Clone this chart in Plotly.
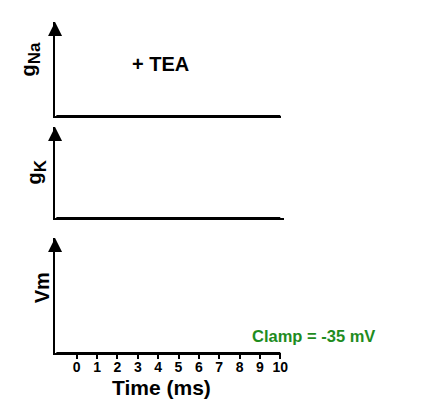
import plotly.graph_objects as go

W, H = 424, 415

# data
time_ms = [-1.0, 0, 1, 2, 3, 4, 5, 6, 7, 8, 9, 10]
g_na = [0, 0, 0, 0, 0, 0, 0, 0, 0, 0, 0, 0]
g_k = [0, 0, 0, 0, 0, 0, 0, 0, 0, 0, 0, 0]
vm = [0, 0, 0, 0, 0, 0, 0, 0, 0, 0, 0, 0]
tick_vals = [0, 1, 2, 3, 4, 5, 6, 7, 8, 9, 10]
tick_text = ["<b>%d</b>" % v for v in tick_vals]

FONT = "Liberation Sans, Arial, Helvetica, sans-serif"
GREEN = "#1e8c1e"


def px_x(p):
    return p / W


def px_y(p):
    return 1 - p / H


# pixel boxes of the three panels: (left, right, bottom, top)
panels = [
    (56, 286, 116, 22),
    (56, 289, 218, 127),
    (56, 286, 353, 238),
]

fig = go.Figure()
series = [g_na, g_k, vm]
for i, vals in enumerate(series):
    sfx = "" if i == 0 else str(i + 1)
    fig.add_trace(go.Scatter(
        x=time_ms, y=vals, mode="lines",
        line=dict(color="black", width=2),
        xaxis="x" + sfx, yaxis="y" + sfx, showlegend=False, hoverinfo="skip",
    ))

layout = dict(
    width=W, height=H,
    margin=dict(l=0, r=0, t=0, b=0),
    paper_bgcolor="white", plot_bgcolor="white",
    showlegend=False,
)
annotations = []
for i, (l, r, b, t) in enumerate(panels):
    sfx = "" if i == 0 else str(i + 1)
    # x range chosen so 0 ms sits at px 78 and 10 ms at px 285
    scale = (285 - 78) / 10
    x0 = -(78 - l) / scale
    x1 = 10 + (r - 285) / scale
    xa = dict(
        domain=[px_x(l), px_x(r)], range=[x0, x1],
        showline=True, linewidth=2, linecolor="black",
        showgrid=False, zeroline=False,
        anchor="y" + sfx,
    )
    if i == 2:
        xa.update(
            tickvals=tick_vals, ticktext=tick_text,
            ticks="outside", ticklen=4, tickwidth=2, tickcolor="black",
            tickfont=dict(family=FONT, size=14, color="black"),
            ticklabelstandoff=-4,
        )
    else:
        xa.update(showticklabels=False, ticks="")
    ya = dict(
        domain=[px_y(b), px_y(t)], range=[0, 1],
        showline=True, linewidth=2, linecolor="black",
        showgrid=False, zeroline=False, showticklabels=False, ticks="",
        anchor="x" + sfx,
    )
    layout["xaxis" + sfx] = xa
    layout["yaxis" + sfx] = ya
    # arrow head on top of each y axis
    annotations.append(dict(
        x=px_x(l), y=px_y(t), xref="paper", yref="paper",
        ax=0, ay=12, axref="pixel", ayref="pixel",
        showarrow=True, arrowhead=2, arrowsize=1.4, arrowwidth=2,
        arrowcolor="black", text="",
    ))


def label(x, y, text, size, color="black", angle=0):
    return dict(
        x=px_x(x), y=px_y(y), xref="paper", yref="paper",
        xanchor="center", yanchor="middle",
        text=text, textangle=angle, showarrow=False,
        font=dict(family=FONT, size=size, color=color),
    )


annotations += [
    label(31, 59, "<b>g<sub><span style='font-size:17px'>Na</span></sub></b>", 20, angle=-90),
    label(37, 172, "<b>g<sub><span style='font-size:17px'>K</span></sub></b>", 20, angle=-90),
    label(43, 288, "<b>Vm</b>", 20, angle=-90),
    label(163, 64, "<b>+ TEA</b>", 20),
    label(319, 336, "<b>Clamp = -35 mV</b>", 16.5, color=GREEN),
    label(164, 387, "<b>Time (ms)</b>", 21),
]
layout["annotations"] = annotations
fig.update_layout(**layout)

fig.write_html(
    "out.html",
    config={"displayModeBar": False},
    post_script="document.body.style.margin='0';",
)
